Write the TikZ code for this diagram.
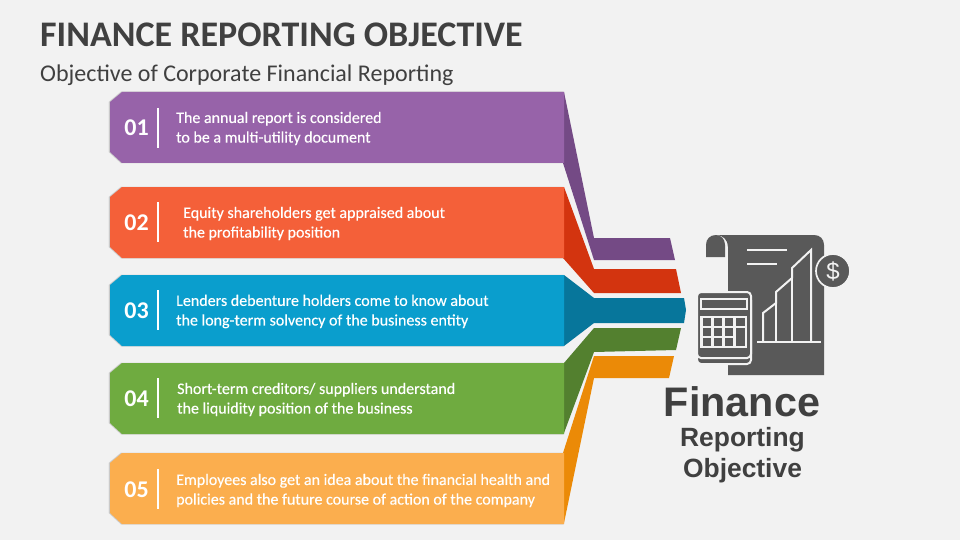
\documentclass[tikz,border=0pt]{standalone}
\usepackage{fontspec}
\setmainfont{Carlito}
\newfontfamily\arialfont{Liberation Sans}
\newfontfamily\barfont[FakeBold=0.3]{Carlito}
\definecolor{pagebg}{HTML}{F2F2F2}
\definecolor{inkgrey}{HTML}{404040}
\definecolor{icongrey}{HTML}{595959}
\definecolor{purplebar}{HTML}{9763A9}
\definecolor{purpledark}{HTML}{744A85}
\definecolor{redbar}{HTML}{F46039}
\definecolor{reddark}{HTML}{D3340F}
\definecolor{bluebar}{HTML}{0A9ECD}
\definecolor{bluedark}{HTML}{07769B}
\definecolor{greenbar}{HTML}{6FAB40}
\definecolor{greendark}{HTML}{53802F}
\definecolor{orangebar}{HTML}{FBAE4E}
\definecolor{orangedark}{HTML}{EB8A07}
\newcommand{\barpath}[1]{(122,#1) -- (564,#1) -- (564,#1+71) -- (122,#1+71) -- (110,#1+60) -- (110,#1+10) -- cycle}
\tikzset{
  barshadow/.style={fill=black!55, draw=black!55, line width=1pt, opacity=.2, xshift=-.8pt},
  numtext/.style={text=white, font=\fontsize{24}{28}\selectfont\bfseries, anchor=center},
  bartext/.style={text=white, font=\barfont\fontsize{16}{19.6}\selectfont, anchor=west, align=left, inner sep=0pt},
  sepline/.style={white, line width=1.5pt},
  iconline/.style={pagebg, line width=2pt},
  keybox/.style={fill=icongrey}
}
\begin{document}
\begin{tikzpicture}[x=1pt,y=-1pt]
\useasboundingbox[fill=pagebg] (0,0) rectangle (960,540);
\node[anchor=west, inner sep=0pt, text=inkgrey, font=\fontsize{36}{40}\selectfont\bfseries] (title) at (40,35) {FINANCE REPORTING OBJECTIVE};
\node[anchor=west, inner sep=0pt, text=inkgrey, font=\fontsize{24}{27}\selectfont] (subtitle) at (40,75) {Objective of Corporate Financial Reporting};
% ribbons
\fill[purpledark] (564,92) -- (594,238) -- (670,238) -- (675,260) -- (594,260) -- (563,163) -- cycle;
\fill[reddark] (564,187) -- (594,269) -- (676,269) -- (681,293) -- (594,293) -- (563,258) -- cycle;
\fill[bluedark] (564,275) -- (594,298) -- (684,298) -- (686,310) -- (684,323) -- (594,323) -- (564,346) -- cycle;
\fill[greendark] (564,363) -- (594,328) -- (681,328) -- (676,350) -- (594,352) -- (564,433) -- cycle;
\fill[orangedark] (563,453) -- (594,356) -- (674,356) -- (669,378) -- (594,378) -- (564,523) -- cycle;
% bars
\filldraw[barshadow] \barpath{92};
\fill[purplebar] \barpath{92};
\filldraw[barshadow] \barpath{187};
\fill[redbar] \barpath{187};
\filldraw[barshadow] \barpath{275};
\fill[bluebar] \barpath{275};
\filldraw[barshadow] \barpath{363};
\fill[greenbar] \barpath{363};
\filldraw[barshadow] \barpath{453};
\fill[orangebar] \barpath{453};
% numbers
\node[numtext] (num1) at (136.5,128) {01};
\node[numtext] (num2) at (136.5,223) {02};
\node[numtext] (num3) at (136.5,311) {03};
\node[numtext] (num4) at (136.5,399) {04};
\node[numtext] (num5) at (136.5,490) {05};
\coordinate (sep1a) at (158,108);
\coordinate (sep1b) at (158,148);
\coordinate (sep2a) at (158,202);
\coordinate (sep2b) at (158,242);
\coordinate (sep3a) at (158,290);
\coordinate (sep3b) at (158,330);
\coordinate (sep4a) at (158,378);
\coordinate (sep4b) at (158,418);
\coordinate (sep5a) at (158,469);
\coordinate (sep5b) at (158,509);
\draw[sepline] (sep1a) -- (sep1b);
\draw[sepline] (sep2a) -- (sep2b);
\draw[sepline] (sep3a) -- (sep3b);
\draw[sepline] (sep4a) -- (sep4b);
\draw[sepline] (sep5a) -- (sep5b);
\node[bartext] (text1) at (176,128.5) {The annual report is considered\\to be a multi-utility document};
\node[bartext] (text2) at (183,223.5) {Equity shareholders get appraised about\\the profitability position};
\node[bartext] (text3) at (176,311.5) {Lenders debenture holders come to know about\\the long-term solvency of the business entity};
\node[bartext] (text4) at (177,399.5) {Short-term creditors/ suppliers understand\\the liquidity position of the business};
\node[bartext] (text5) at (176,490.5) {Employees also get an idea about the financial health and\\policies and the future course of action of the company};
% icon
\fill[icongrey] (716,235) -- (814,235) .. controls (820,235) and (824,239) .. (824,245) -- (824,375) -- (728,375) -- (728,247) .. controls (728,240) and (723,235) .. (716,235) -- cycle;
\fill[icongrey] (706,257) -- (706,245) .. controls (706,239) and (710,235) .. (716,235) .. controls (721,235) and (725,239) .. (725,245) -- (725,257) -- cycle;
\draw[iconline] (747,250) -- (787,250);
\draw[iconline] (747,264) -- (777,264);
\draw[iconline] (763,342) -- (763,313) -- (776,303) -- (776,292) -- (792,278) -- (792,268) -- (811,250) -- (811,342);
\draw[iconline] (776,303) -- (776,342);
\draw[iconline] (792,278) -- (792,342);
\draw[iconline] (757,342) -- (821,342);
\filldraw[icongrey, draw=pagebg, line width=1.7pt] (833,271) circle (17);
\node[text=pagebg, font=\arialfont\fontsize{24}{25}\selectfont, inner sep=0pt] (dollar) at (833,271) {\$};
% calculator
\filldraw[icongrey, draw=pagebg, line width=2pt, rounded corners=4pt] (697,296) rectangle (751,364);
\filldraw[icongrey, draw=pagebg, line width=2pt, rounded corners=4pt] (697,292) rectangle (751,358);
\fill[pagebg] (700,298) rectangle (748,310);
\fill[icongrey] (702,300) rectangle (746,308);
\fill[pagebg] (700,316) rectangle (747,348);
\fill[keybox] (703,318) rectangle (711,326);
\fill[keybox] (714,318) rectangle (722,326);
\fill[keybox] (725,318) rectangle (733,326);
\fill[keybox] (736,318) rectangle (744.5,326);
\fill[keybox] (703,328) rectangle (711,336);
\fill[keybox] (714,328) rectangle (722,336);
\fill[keybox] (725,328) rectangle (733,336);
\fill[keybox] (736,328) rectangle (744.5,346);
\fill[keybox] (703,338) rectangle (711,346);
\fill[keybox] (714,338) rectangle (722,346);
\fill[keybox] (725,338) rectangle (733,346);
% caption
\node[inner sep=0pt, text=inkgrey, font=\arialfont\fontsize{41.3}{44}\selectfont\bfseries] (capfinance) at (742,402) {Finance};
\node[inner sep=0pt, text=inkgrey, font=\arialfont\fontsize{26.4}{30}\selectfont\bfseries] (capreporting) at (742.5,439.5) {Reporting};
\node[inner sep=0pt, text=inkgrey, font=\arialfont\fontsize{26.4}{30}\selectfont\bfseries] (capobjective) at (742.5,470.5) {Objective};
\end{tikzpicture}
\end{document}
